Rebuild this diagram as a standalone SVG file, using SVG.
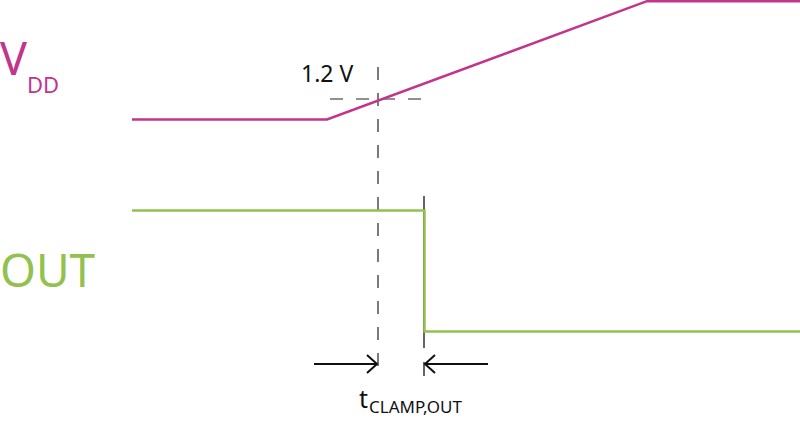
<svg xmlns="http://www.w3.org/2000/svg" width="800" height="428" viewBox="0 0 800 428">
<style>
.vdd{fill:none;stroke:#c1358b;stroke-width:2.5}
.out{fill:none;stroke:#93c150;stroke-width:2.5}
.dash{fill:none;stroke:#222;stroke-width:1.2;stroke-dasharray:13 13}
.blk{fill:none;stroke:#111;stroke-width:1.3}
.arr{fill:none;stroke:#111;stroke-width:2}
text{font-family:"Noto Sans","Open Sans",sans-serif}
</style>
<rect width="800" height="428" fill="#fff"/>
<g id="connectors">
<line class="dash" x1="378" y1="67" x2="378" y2="378"/>
<line class="dash" x1="330" y1="99" x2="430" y2="99"/>
<line class="blk" x1="424" y1="196" x2="424" y2="348"/>
<line class="blk" x1="424" y1="362" x2="424" y2="376"/>
<polyline class="vdd" points="132,119.5 327,119.5 647,1.2 800,1.2"/>
<polyline class="out" points="132,210.5 424.5,210.5 424.5,331.5 800,331.5"/>
<line class="arr" x1="314" y1="364" x2="376" y2="364"/>
<polyline class="arr" points="367,355 377,364 367,373"/>
<line class="arr" x1="426" y1="364" x2="488" y2="364"/>
<polyline class="arr" points="435,355 425,364 435,373"/>
</g>
<g id="vdd-label"><text x="0" y="75" font-size="45" fill="#c1358b">V<tspan x="27" y="93" font-size="22">DD</tspan></text></g>
<g id="out-label"><text x="0" y="287" font-size="46" fill="#93c150">OUT</text></g>
<g id="v12-label"><text x="301" y="82" font-size="23" fill="#111">1.2 V</text></g>
<g id="tclamp-label"><text x="359" y="408" font-size="25" fill="#111">t<tspan x="369" y="413" font-size="17">CLAMP,OUT</tspan></text></g>
</svg>
